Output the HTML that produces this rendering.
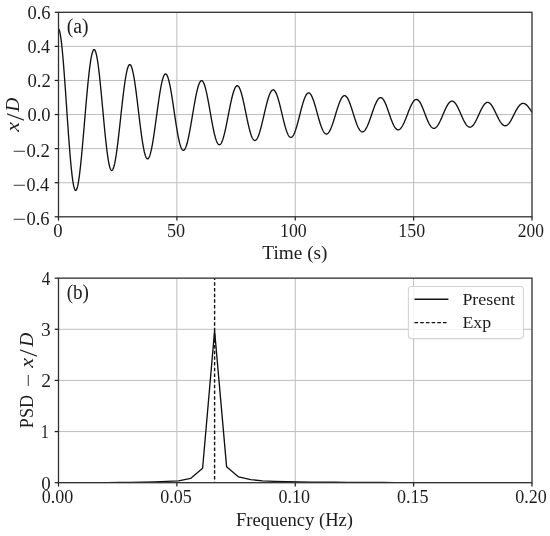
<!DOCTYPE html>
<html><head><meta charset="utf-8"><title>Figure</title>
<style>
html,body{margin:0;padding:0;background:#fff;}
svg{display:block}
text{font-family:"Liberation Serif",serif;font-size:18px;fill:#1c1c1c}
.it{font-style:italic}
.grid line{stroke:#b9b9b9;stroke-width:0.95}
.tick line{stroke:#222;stroke-width:1.25}
.spine{fill:none;stroke:#303030;stroke-width:1.3}
.curve{fill:none;stroke:#111;stroke-width:1.35;stroke-linejoin:round}
</style></head><body>
<svg width="550" height="536" viewBox="0 0 550 536">
<rect width="550" height="536" fill="#fff"/>

<g class="grid">
<line x1="176.88" y1="12.3" x2="176.88" y2="216.8"/>
<line x1="295.25" y1="12.3" x2="295.25" y2="216.8"/>
<line x1="413.62" y1="12.3" x2="413.62" y2="216.8"/>
<line x1="58.5" y1="46.38" x2="532.0" y2="46.38"/>
<line x1="58.5" y1="80.47" x2="532.0" y2="80.47"/>
<line x1="58.5" y1="114.55" x2="532.0" y2="114.55"/>
<line x1="58.5" y1="148.63" x2="532.0" y2="148.63"/>
<line x1="58.5" y1="182.72" x2="532.0" y2="182.72"/>
<line x1="176.88" y1="278.15" x2="176.88" y2="482.7"/>
<line x1="295.25" y1="278.15" x2="295.25" y2="482.7"/>
<line x1="413.62" y1="278.15" x2="413.62" y2="482.7"/>
<line x1="58.5" y1="431.56" x2="532.0" y2="431.56"/>
<line x1="58.5" y1="380.42" x2="532.0" y2="380.42"/>
<line x1="58.5" y1="329.29" x2="532.0" y2="329.29"/>
</g>
<g class="tick">
<line x1="58.50" y1="216.8" x2="58.50" y2="220.60000000000002"/>
<line x1="176.88" y1="216.8" x2="176.88" y2="220.60000000000002"/>
<line x1="295.25" y1="216.8" x2="295.25" y2="220.60000000000002"/>
<line x1="413.62" y1="216.8" x2="413.62" y2="220.60000000000002"/>
<line x1="532.00" y1="216.8" x2="532.00" y2="220.60000000000002"/>
<line x1="54.7" y1="12.30" x2="58.5" y2="12.30"/>
<line x1="54.7" y1="46.38" x2="58.5" y2="46.38"/>
<line x1="54.7" y1="80.47" x2="58.5" y2="80.47"/>
<line x1="54.7" y1="114.55" x2="58.5" y2="114.55"/>
<line x1="54.7" y1="148.63" x2="58.5" y2="148.63"/>
<line x1="54.7" y1="182.72" x2="58.5" y2="182.72"/>
<line x1="54.7" y1="216.80" x2="58.5" y2="216.80"/>
<line x1="58.50" y1="482.7" x2="58.50" y2="486.5"/>
<line x1="176.88" y1="482.7" x2="176.88" y2="486.5"/>
<line x1="295.25" y1="482.7" x2="295.25" y2="486.5"/>
<line x1="413.62" y1="482.7" x2="413.62" y2="486.5"/>
<line x1="532.00" y1="482.7" x2="532.00" y2="486.5"/>
<line x1="54.7" y1="482.70" x2="58.5" y2="482.70"/>
<line x1="54.7" y1="431.56" x2="58.5" y2="431.56"/>
<line x1="54.7" y1="380.42" x2="58.5" y2="380.42"/>
<line x1="54.7" y1="329.29" x2="58.5" y2="329.29"/>
<line x1="54.7" y1="278.15" x2="58.5" y2="278.15"/>
</g>
<clipPath id="c1"><rect x="58.5" y="12.3" width="473.5" height="204.5"/></clipPath>
<clipPath id="c2"><rect x="58.5" y="278.15" width="473.5" height="204.55"/></clipPath>
<polyline class="curve" clip-path="url(#c1)" points="58.50,28.83 58.80,29.12 59.09,29.67 59.39,30.46 59.68,31.51 59.98,32.80 60.28,34.32 60.57,36.08 60.87,38.07 61.16,40.27 61.46,42.68 61.76,45.29 62.05,48.09 62.35,51.08 62.64,54.23 62.94,57.55 63.23,61.03 63.53,64.64 63.83,68.37 64.12,72.23 64.42,76.19 64.71,80.24 65.01,84.37 65.31,88.56 65.60,92.81 65.90,97.11 66.19,101.43 66.49,105.76 66.79,110.10 67.08,114.43 67.38,118.74 67.67,123.02 67.97,127.24 68.27,131.42 68.56,135.52 68.86,139.54 69.15,143.47 69.45,147.29 69.75,151.01 70.04,154.60 70.34,158.07 70.63,161.39 70.93,164.56 71.23,167.58 71.52,170.43 71.82,173.12 72.11,175.63 72.41,177.95 72.70,180.09 73.00,182.04 73.30,183.79 73.59,185.34 73.89,186.69 74.18,187.83 74.48,188.77 74.78,189.50 75.07,190.03 75.37,190.35 75.66,190.46 75.96,190.36 76.26,190.07 76.55,189.57 76.85,188.87 77.14,187.98 77.44,186.91 77.74,185.65 78.03,184.21 78.33,182.60 78.62,180.83 78.92,178.89 79.22,176.80 79.51,174.56 79.81,172.19 80.10,169.68 80.40,167.05 80.70,164.30 80.99,161.44 81.29,158.49 81.58,155.44 81.88,152.30 82.17,149.09 82.47,145.81 82.77,142.47 83.06,139.08 83.36,135.65 83.65,132.19 83.95,128.70 84.25,125.20 84.54,121.69 84.84,118.18 85.13,114.68 85.43,111.19 85.73,107.74 86.02,104.31 86.32,100.93 86.61,97.60 86.91,94.33 87.21,91.12 87.50,87.99 87.80,84.93 88.09,81.97 88.39,79.09 88.69,76.32 88.98,73.65 89.28,71.10 89.57,68.67 89.87,66.36 90.17,64.18 90.46,62.13 90.76,60.23 91.05,58.47 91.35,56.85 91.65,55.39 91.94,54.09 92.24,52.95 92.53,51.96 92.83,51.15 93.12,50.49 93.42,50.01 93.72,49.70 94.01,49.55 94.31,49.58 94.60,49.78 94.90,50.16 95.20,50.70 95.49,51.42 95.79,52.30 96.08,53.35 96.38,54.56 96.68,55.93 96.97,57.46 97.27,59.13 97.56,60.96 97.86,62.92 98.16,65.02 98.45,67.24 98.75,69.59 99.04,72.06 99.34,74.63 99.64,77.30 99.93,80.07 100.23,82.92 100.52,85.84 100.82,88.84 101.12,91.89 101.41,94.99 101.71,98.13 102.00,101.30 102.30,104.50 102.59,107.70 102.89,110.91 103.19,114.12 103.48,117.31 103.78,120.48 104.07,123.61 104.37,126.70 104.67,129.74 104.96,132.73 105.26,135.64 105.55,138.48 105.85,141.24 106.15,143.91 106.44,146.48 106.74,148.95 107.03,151.31 107.33,153.55 107.63,155.67 107.92,157.66 108.22,159.52 108.51,161.25 108.81,162.84 109.11,164.28 109.40,165.58 109.70,166.73 109.99,167.72 110.29,168.57 110.59,169.26 110.88,169.80 111.18,170.19 111.47,170.42 111.77,170.49 112.06,170.42 112.36,170.19 112.66,169.82 112.95,169.30 113.25,168.63 113.54,167.83 113.84,166.88 114.14,165.80 114.43,164.58 114.73,163.24 115.02,161.77 115.32,160.19 115.62,158.48 115.91,156.67 116.21,154.76 116.50,152.75 116.80,150.64 117.10,148.45 117.39,146.17 117.69,143.83 117.98,141.41 118.28,138.93 118.58,136.40 118.87,133.82 119.17,131.20 119.46,128.54 119.76,125.86 120.06,123.16 120.35,120.45 120.65,117.73 120.94,115.01 121.24,112.30 121.53,109.61 121.83,106.93 122.13,104.29 122.42,101.69 122.72,99.12 123.01,96.61 123.31,94.15 123.61,91.76 123.90,89.43 124.20,87.18 124.49,85.01 124.79,82.92 125.09,80.92 125.38,79.02 125.68,77.22 125.97,75.53 126.27,73.94 126.57,72.47 126.86,71.12 127.16,69.88 127.45,68.77 127.75,67.79 128.05,66.93 128.34,66.20 128.64,65.61 128.93,65.15 129.23,64.83 129.53,64.64 129.82,64.58 130.12,64.67 130.41,64.88 130.71,65.24 131.00,65.72 131.30,66.34 131.60,67.09 131.89,67.96 132.19,68.96 132.48,70.08 132.78,71.31 133.08,72.66 133.37,74.13 133.67,75.69 133.96,77.36 134.26,79.12 134.56,80.98 134.85,82.92 135.15,84.93 135.44,87.03 135.74,89.19 136.04,91.41 136.33,93.68 136.63,96.01 136.92,98.38 137.22,100.78 137.52,103.21 137.81,105.66 138.11,108.12 138.40,110.60 138.70,113.07 139.00,115.54 139.29,117.99 139.59,120.42 139.88,122.83 140.18,125.21 140.47,127.54 140.77,129.83 141.07,132.07 141.36,134.25 141.66,136.37 141.95,138.42 142.25,140.40 142.55,142.29 142.84,144.10 143.14,145.83 143.43,147.46 143.73,148.99 144.03,150.42 144.32,151.75 144.62,152.98 144.91,154.09 145.21,155.09 145.51,155.98 145.80,156.75 146.10,157.40 146.39,157.94 146.69,158.35 146.99,158.65 147.28,158.83 147.58,158.88 147.87,158.82 148.17,158.64 148.47,158.34 148.76,157.93 149.06,157.40 149.35,156.76 149.65,156.01 149.94,155.15 150.24,154.18 150.54,153.12 150.83,151.95 151.13,150.69 151.42,149.34 151.72,147.90 152.02,146.38 152.31,144.77 152.61,143.09 152.90,141.34 153.20,139.53 153.50,137.65 153.79,135.72 154.09,133.74 154.38,131.72 154.68,129.65 154.98,127.55 155.27,125.42 155.57,123.27 155.86,121.10 156.16,118.92 156.46,116.74 156.75,114.55 157.05,112.37 157.34,110.20 157.64,108.05 157.94,105.92 158.23,103.82 158.53,101.76 158.82,99.73 159.12,97.75 159.41,95.82 159.71,93.94 160.01,92.12 160.30,90.37 160.60,88.68 160.89,87.07 161.19,85.54 161.49,84.09 161.78,82.72 162.08,81.44 162.37,80.25 162.67,79.16 162.97,78.17 163.26,77.28 163.56,76.49 163.85,75.80 164.15,75.23 164.45,74.76 164.74,74.39 165.04,74.14 165.33,74.00 165.63,73.97 165.93,74.05 166.22,74.24 166.52,74.55 166.81,74.96 167.11,75.48 167.41,76.11 167.70,76.84 168.00,77.67 168.29,78.61 168.59,79.64 168.88,80.76 169.18,81.97 169.48,83.27 169.77,84.65 170.07,86.10 170.36,87.63 170.66,89.23 170.96,90.89 171.25,92.61 171.55,94.38 171.84,96.21 172.14,98.07 172.44,99.97 172.73,101.90 173.03,103.86 173.32,105.84 173.62,107.83 173.92,109.84 174.21,111.84 174.51,113.85 174.80,115.84 175.10,117.83 175.40,119.79 175.69,121.73 175.99,123.64 176.28,125.52 176.58,127.35 176.88,129.15 177.17,130.89 177.47,132.58 177.76,134.22 178.06,135.79 178.35,137.29 178.65,138.73 178.95,140.10 179.24,141.39 179.54,142.60 179.83,143.73 180.13,144.78 180.43,145.74 180.72,146.62 181.02,147.40 181.31,148.10 181.61,148.70 181.91,149.21 182.20,149.62 182.50,149.95 182.79,150.17 183.09,150.31 183.39,150.35 183.68,150.29 183.98,150.15 184.27,149.91 184.57,149.57 184.87,149.15 185.16,148.64 185.46,148.04 185.75,147.36 186.05,146.59 186.34,145.74 186.64,144.82 186.94,143.81 187.23,142.74 187.53,141.59 187.82,140.38 188.12,139.11 188.42,137.77 188.71,136.38 189.01,134.93 189.30,133.44 189.60,131.90 189.90,130.32 190.19,128.70 190.49,127.04 190.78,125.36 191.08,123.66 191.38,121.93 191.67,120.19 191.97,118.43 192.26,116.67 192.56,114.90 192.86,113.14 193.15,111.38 193.45,109.63 193.74,107.90 194.04,106.19 194.34,104.50 194.63,102.84 194.93,101.21 195.22,99.62 195.52,98.06 195.81,96.56 196.11,95.10 196.41,93.69 196.70,92.33 197.00,91.04 197.29,89.81 197.59,88.64 197.89,87.55 198.18,86.52 198.48,85.57 198.77,84.70 199.07,83.91 199.37,83.20 199.66,82.57 199.96,82.03 200.25,81.57 200.55,81.20 200.85,80.93 201.14,80.74 201.44,80.64 201.73,80.64 202.03,80.72 202.33,80.90 202.62,81.18 202.92,81.54 203.21,82.00 203.51,82.54 203.81,83.17 204.10,83.88 204.40,84.68 204.69,85.56 204.99,86.51 205.28,87.54 205.58,88.64 205.88,89.81 206.17,91.05 206.47,92.34 206.76,93.69 207.06,95.10 207.36,96.55 207.65,98.05 207.95,99.58 208.24,101.15 208.54,102.76 208.84,104.38 209.13,106.03 209.43,107.70 209.72,109.37 210.02,111.06 210.32,112.74 210.61,114.43 210.91,116.10 211.20,117.77 211.50,119.41 211.80,121.04 212.09,122.64 212.39,124.21 212.68,125.75 212.98,127.25 213.28,128.71 213.57,130.13 213.87,131.49 214.16,132.80 214.46,134.06 214.75,135.26 215.05,136.39 215.35,137.46 215.64,138.47 215.94,139.40 216.23,140.27 216.53,141.06 216.83,141.78 217.12,142.42 217.42,142.99 217.71,143.47 218.01,143.88 218.31,144.21 218.60,144.45 218.90,144.62 219.19,144.71 219.49,144.71 219.79,144.64 220.08,144.49 220.38,144.25 220.67,143.94 220.97,143.55 221.27,143.08 221.56,142.53 221.86,141.92 222.15,141.22 222.45,140.46 222.75,139.64 223.04,138.74 223.34,137.79 223.63,136.77 223.93,135.69 224.22,134.56 224.52,133.38 224.82,132.15 225.11,130.87 225.41,129.56 225.70,128.20 226.00,126.81 226.30,125.39 226.59,123.94 226.89,122.47 227.18,120.97 227.48,119.47 227.78,117.95 228.07,116.42 228.37,114.89 228.66,113.37 228.96,111.84 229.26,110.33 229.55,108.83 229.85,107.34 230.14,105.88 230.44,104.44 230.74,103.03 231.03,101.66 231.33,100.32 231.62,99.02 231.92,97.76 232.22,96.55 232.51,95.39 232.81,94.29 233.10,93.24 233.40,92.25 233.69,91.32 233.99,90.45 234.29,89.66 234.58,88.93 234.88,88.27 235.17,87.69 235.47,87.18 235.77,86.74 236.06,86.38 236.36,86.11 236.65,85.91 236.95,85.78 237.25,85.74 237.54,85.78 237.84,85.90 238.13,86.10 238.43,86.38 238.73,86.74 239.02,87.18 239.32,87.69 239.61,88.28 239.91,88.94 240.21,89.67 240.50,90.47 240.80,91.34 241.09,92.27 241.39,93.26 241.69,94.30 241.98,95.40 242.28,96.56 242.57,97.75 242.87,99.00 243.16,100.28 243.46,101.59 243.76,102.94 244.05,104.32 244.35,105.71 244.64,107.13 244.94,108.57 245.24,110.01 245.53,111.46 245.83,112.91 246.12,114.37 246.42,115.81 246.72,117.25 247.01,118.67 247.31,120.07 247.60,121.45 247.90,122.81 248.20,124.14 248.49,125.43 248.79,126.69 249.08,127.91 249.38,129.08 249.68,130.21 249.97,131.30 250.27,132.33 250.56,133.31 250.86,134.23 251.16,135.09 251.45,135.90 251.75,136.64 252.04,137.32 252.34,137.94 252.63,138.49 252.93,138.97 253.23,139.39 253.52,139.74 253.82,140.02 254.11,140.23 254.41,140.37 254.71,140.45 255.00,140.45 255.30,140.39 255.59,140.26 255.89,140.06 256.19,139.80 256.48,139.47 256.78,139.07 257.07,138.62 257.37,138.10 257.67,137.52 257.96,136.88 258.26,136.19 258.55,135.44 258.85,134.64 259.15,133.79 259.44,132.89 259.74,131.95 260.03,130.96 260.33,129.93 260.63,128.87 260.92,127.77 261.22,126.64 261.51,125.48 261.81,124.30 262.11,123.09 262.40,121.86 262.70,120.62 262.99,119.36 263.29,118.09 263.58,116.82 263.88,115.54 264.18,114.26 264.47,112.98 264.77,111.71 265.06,110.45 265.36,109.20 265.66,107.96 265.95,106.74 266.25,105.55 266.54,104.38 266.84,103.23 267.14,102.12 267.43,101.03 267.73,99.99 268.02,98.98 268.32,98.02 268.62,97.09 268.91,96.22 269.21,95.39 269.50,94.61 269.80,93.89 270.10,93.22 270.39,92.60 270.69,92.04 270.98,91.55 271.28,91.11 271.57,90.74 271.87,90.43 272.17,90.18 272.46,90.00 272.76,89.89 273.05,89.84 273.35,89.85 273.65,89.94 273.94,90.09 274.24,90.31 274.53,90.59 274.83,90.93 275.13,91.34 275.42,91.82 275.72,92.35 276.01,92.94 276.31,93.60 276.61,94.30 276.90,95.06 277.20,95.88 277.49,96.74 277.79,97.65 278.09,98.60 278.38,99.60 278.68,100.64 278.97,101.71 279.27,102.81 279.57,103.94 279.86,105.10 280.16,106.29 280.45,107.49 280.75,108.71 281.04,109.94 281.34,111.18 281.64,112.43 281.93,113.68 282.23,114.93 282.52,116.17 282.82,117.41 283.12,118.63 283.41,119.84 283.71,121.04 284.00,122.21 284.30,123.36 284.60,124.48 284.89,125.56 285.19,126.62 285.48,127.64 285.78,128.62 286.08,129.56 286.37,130.45 286.67,131.30 286.96,132.10 287.26,132.85 287.56,133.55 287.85,134.19 288.15,134.78 288.44,135.31 288.74,135.78 289.04,136.20 289.33,136.55 289.63,136.84 289.92,137.07 290.22,137.24 290.51,137.35 290.81,137.39 291.11,137.37 291.40,137.29 291.70,137.15 291.99,136.95 292.29,136.68 292.59,136.36 292.88,135.98 293.18,135.54 293.47,135.04 293.77,134.49 294.07,133.89 294.36,133.23 294.66,132.53 294.95,131.77 295.25,130.97 295.55,130.13 295.84,129.25 296.14,128.32 296.43,127.37 296.73,126.37 297.03,125.35 297.32,124.30 297.62,123.22 297.91,122.13 298.21,121.01 298.51,119.88 298.80,118.73 299.10,117.58 299.39,116.41 299.69,115.25 299.99,114.08 300.28,112.92 300.58,111.77 300.87,110.62 301.17,109.49 301.46,108.37 301.76,107.27 302.06,106.19 302.35,105.14 302.65,104.11 302.94,103.12 303.24,102.16 303.54,101.23 303.83,100.34 304.13,99.50 304.42,98.69 304.72,97.93 305.02,97.22 305.31,96.56 305.61,95.95 305.90,95.39 306.20,94.88 306.50,94.43 306.79,94.04 307.09,93.70 307.38,93.42 307.68,93.20 307.98,93.04 308.27,92.94 308.57,92.90 308.86,92.92 309.16,93.00 309.46,93.14 309.75,93.34 310.05,93.60 310.34,93.92 310.64,94.30 310.93,94.73 311.23,95.21 311.53,95.75 311.82,96.34 312.12,96.98 312.41,97.66 312.71,98.39 313.01,99.16 313.30,99.97 313.60,100.82 313.89,101.71 314.19,102.62 314.49,103.57 314.78,104.54 315.08,105.53 315.37,106.55 315.67,107.58 315.97,108.63 316.26,109.69 316.56,110.76 316.85,111.83 317.15,112.91 317.45,113.99 317.74,115.06 318.04,116.12 318.33,117.18 318.63,118.23 318.93,119.26 319.22,120.27 319.52,121.26 319.81,122.23 320.11,123.18 320.40,124.09 320.70,124.98 321.00,125.83 321.29,126.66 321.59,127.44 321.88,128.19 322.18,128.90 322.48,129.56 322.77,130.19 323.07,130.77 323.36,131.30 323.66,131.79 323.96,132.23 324.25,132.62 324.55,132.97 324.84,133.26 325.14,133.51 325.44,133.70 325.73,133.84 326.03,133.93 326.32,133.98 326.62,133.97 326.92,133.91 327.21,133.80 327.51,133.63 327.80,133.42 328.10,133.16 328.39,132.85 328.69,132.49 328.99,132.09 329.28,131.64 329.58,131.14 329.87,130.60 330.17,130.02 330.47,129.41 330.76,128.75 331.06,128.06 331.35,127.33 331.65,126.57 331.95,125.78 332.24,124.96 332.54,124.11 332.83,123.24 333.13,122.35 333.43,121.44 333.72,120.51 334.02,119.57 334.31,118.62 334.61,117.65 334.91,116.68 335.20,115.70 335.50,114.72 335.79,113.74 336.09,112.76 336.39,111.79 336.68,110.83 336.98,109.88 337.27,108.94 337.57,108.01 337.87,107.10 338.16,106.22 338.46,105.35 338.75,104.51 339.05,103.70 339.34,102.91 339.64,102.16 339.94,101.43 340.23,100.75 340.53,100.10 340.82,99.49 341.12,98.92 341.42,98.39 341.71,97.90 342.01,97.46 342.30,97.06 342.60,96.71 342.90,96.41 343.19,96.16 343.49,95.95 343.78,95.80 344.08,95.69 344.38,95.64 344.67,95.64 344.97,95.69 345.26,95.79 345.56,95.94 345.86,96.14 346.15,96.40 346.45,96.70 346.74,97.05 347.04,97.45 347.33,97.90 347.63,98.39 347.93,98.93 348.22,99.50 348.52,100.12 348.81,100.78 349.11,101.47 349.41,102.19 349.70,102.95 350.00,103.73 350.29,104.55 350.59,105.39 350.89,106.25 351.18,107.13 351.48,108.02 351.77,108.94 352.07,109.86 352.37,110.80 352.66,111.74 352.96,112.68 353.25,113.63 353.55,114.57 353.85,115.51 354.14,116.45 354.44,117.38 354.73,118.29 355.03,119.19 355.33,120.08 355.62,120.94 355.92,121.79 356.21,122.61 356.51,123.41 356.81,124.18 357.10,124.93 357.40,125.64 357.69,126.32 357.99,126.97 358.28,127.58 358.58,128.15 358.88,128.69 359.17,129.19 359.47,129.64 359.76,130.06 360.06,130.43 360.36,130.76 360.65,131.05 360.95,131.29 361.24,131.49 361.54,131.65 361.84,131.76 362.13,131.83 362.43,131.85 362.72,131.83 363.02,131.76 363.32,131.64 363.61,131.49 363.91,131.28 364.20,131.04 364.50,130.75 364.80,130.42 365.09,130.05 365.39,129.65 365.68,129.20 365.98,128.71 366.27,128.19 366.57,127.64 366.87,127.05 367.16,126.43 367.46,125.79 367.75,125.11 368.05,124.41 368.35,123.68 368.64,122.93 368.94,122.16 369.23,121.37 369.53,120.56 369.83,119.74 370.12,118.91 370.42,118.06 370.71,117.21 371.01,116.35 371.31,115.48 371.60,114.62 371.90,113.75 372.19,112.89 372.49,112.03 372.79,111.18 373.08,110.33 373.38,109.50 373.67,108.68 373.97,107.87 374.27,107.09 374.56,106.32 374.86,105.57 375.15,104.85 375.45,104.15 375.75,103.47 376.04,102.83 376.34,102.22 376.63,101.64 376.93,101.09 377.22,100.58 377.52,100.10 377.82,99.67 378.11,99.27 378.41,98.91 378.70,98.59 379.00,98.32 379.30,98.09 379.59,97.90 379.89,97.76 380.18,97.67 380.48,97.62 380.78,97.61 381.07,97.66 381.37,97.75 381.66,97.89 381.96,98.07 382.26,98.31 382.55,98.59 382.85,98.91 383.14,99.28 383.44,99.70 383.74,100.15 384.03,100.65 384.33,101.18 384.62,101.75 384.92,102.36 385.21,103.00 385.51,103.67 385.81,104.38 386.10,105.10 386.40,105.86 386.69,106.63 386.99,107.43 387.29,108.24 387.58,109.07 387.88,109.91 388.17,110.76 388.47,111.62 388.77,112.48 389.06,113.34 389.36,114.21 389.65,115.07 389.95,115.92 390.25,116.77 390.54,117.60 390.84,118.42 391.13,119.23 391.43,120.02 391.73,120.79 392.02,121.54 392.32,122.27 392.61,122.97 392.91,123.64 393.21,124.29 393.50,124.90 393.80,125.49 394.09,126.04 394.39,126.55 394.69,127.04 394.98,127.48 395.28,127.89 395.57,128.26 395.87,128.59 396.16,128.88 396.46,129.14 396.76,129.35 397.05,129.52 397.35,129.66 397.64,129.75 397.94,129.80 398.24,129.82 398.53,129.79 398.83,129.73 399.12,129.62 399.42,129.47 399.72,129.29 400.01,129.06 400.31,128.80 400.60,128.50 400.90,128.17 401.20,127.80 401.49,127.39 401.79,126.96 402.08,126.49 402.38,125.99 402.68,125.46 402.97,124.91 403.27,124.33 403.56,123.72 403.86,123.09 404.15,122.44 404.45,121.77 404.75,121.09 405.04,120.38 405.34,119.67 405.63,118.94 405.93,118.20 406.23,117.45 406.52,116.69 406.82,115.93 407.11,115.16 407.41,114.40 407.71,113.63 408.00,112.87 408.30,112.11 408.59,111.36 408.89,110.61 409.19,109.88 409.48,109.15 409.78,108.44 410.07,107.75 410.37,107.07 410.67,106.42 410.96,105.78 411.26,105.16 411.55,104.57 411.85,104.01 412.15,103.47 412.44,102.96 412.74,102.48 413.03,102.03 413.33,101.61 413.62,101.23 413.92,100.88 414.22,100.57 414.51,100.30 414.81,100.06 415.10,99.86 415.40,99.70 415.70,99.58 415.99,99.50 416.29,99.46 416.58,99.46 416.88,99.50 417.18,99.59 417.47,99.71 417.77,99.88 418.06,100.10 418.36,100.35 418.66,100.64 418.95,100.98 419.25,101.35 419.54,101.76 419.84,102.20 420.14,102.68 420.43,103.19 420.73,103.74 421.02,104.31 421.32,104.92 421.62,105.55 421.91,106.20 422.21,106.88 422.50,107.57 422.80,108.29 423.10,109.02 423.39,109.76 423.69,110.51 423.98,111.28 424.28,112.05 424.57,112.82 424.87,113.60 425.17,114.38 425.46,115.15 425.76,115.92 426.05,116.68 426.35,117.43 426.65,118.18 426.94,118.90 427.24,119.62 427.53,120.31 427.83,120.99 428.13,121.64 428.42,122.27 428.72,122.88 429.01,123.46 429.31,124.01 429.61,124.54 429.90,125.03 430.20,125.49 430.49,125.93 430.79,126.32 431.09,126.69 431.38,127.02 431.68,127.31 431.97,127.57 432.27,127.79 432.56,127.98 432.86,128.12 433.16,128.24 433.45,128.31 433.75,128.35 434.04,128.35 434.34,128.32 434.64,128.24 434.93,128.14 435.23,127.99 435.52,127.81 435.82,127.60 436.12,127.35 436.41,127.06 436.71,126.75 437.00,126.40 437.30,126.02 437.60,125.61 437.89,125.18 438.19,124.71 438.48,124.22 438.78,123.71 439.08,123.17 439.37,122.61 439.67,122.03 439.96,121.43 440.26,120.82 440.56,120.19 440.85,119.54 441.15,118.88 441.44,118.21 441.74,117.54 442.04,116.85 442.33,116.16 442.63,115.47 442.92,114.77 443.22,114.08 443.51,113.39 443.81,112.70 444.11,112.01 444.40,111.33 444.70,110.66 444.99,110.01 445.29,109.36 445.59,108.73 445.88,108.11 446.18,107.51 446.47,106.93 446.77,106.37 447.07,105.83 447.36,105.31 447.66,104.82 447.95,104.36 448.25,103.92 448.55,103.50 448.84,103.12 449.14,102.77 449.43,102.45 449.73,102.16 450.03,101.91 450.32,101.68 450.62,101.50 450.91,101.34 451.21,101.23 451.50,101.14 451.80,101.10 452.10,101.09 452.39,101.11 452.69,101.18 452.98,101.27 453.28,101.41 453.58,101.58 453.87,101.79 454.17,102.02 454.46,102.30 454.76,102.60 455.06,102.94 455.35,103.31 455.65,103.71 455.94,104.14 456.24,104.59 456.54,105.07 456.83,105.58 457.13,106.11 457.42,106.66 457.72,107.23 458.02,107.82 458.31,108.43 458.61,109.05 458.90,109.69 459.20,110.33 459.50,110.99 459.79,111.66 460.09,112.33 460.38,113.01 460.68,113.68 460.98,114.36 461.27,115.04 461.57,115.72 461.86,116.39 462.16,117.05 462.45,117.71 462.75,118.35 463.05,118.99 463.34,119.61 463.64,120.21 463.93,120.80 464.23,121.37 464.53,121.92 464.82,122.45 465.12,122.96 465.41,123.44 465.71,123.89 466.01,124.33 466.30,124.73 466.60,125.11 466.89,125.45 467.19,125.77 467.49,126.05 467.78,126.31 468.08,126.53 468.37,126.72 468.67,126.87 468.97,127.00 469.26,127.09 469.56,127.14 469.85,127.16 470.15,127.15 470.44,127.10 470.74,127.02 471.04,126.91 471.33,126.76 471.63,126.58 471.92,126.37 472.22,126.12 472.52,125.85 472.81,125.54 473.11,125.21 473.40,124.84 473.70,124.45 474.00,124.04 474.29,123.59 474.59,123.13 474.88,122.64 475.18,122.12 475.48,121.59 475.77,121.04 476.07,120.47 476.36,119.89 476.66,119.29 476.96,118.68 477.25,118.06 477.55,117.43 477.84,116.80 478.14,116.15 478.44,115.51 478.73,114.86 479.03,114.21 479.32,113.56 479.62,112.92 479.92,112.28 480.21,111.64 480.51,111.02 480.80,110.41 481.10,109.80 481.39,109.21 481.69,108.64 481.99,108.08 482.28,107.54 482.58,107.02 482.87,106.53 483.17,106.05 483.47,105.60 483.76,105.17 484.06,104.77 484.35,104.40 484.65,104.06 484.95,103.74 485.24,103.46 485.54,103.20 485.83,102.98 486.13,102.79 486.43,102.64 486.72,102.51 487.02,102.42 487.31,102.37 487.61,102.35 487.91,102.36 488.20,102.41 488.50,102.49 488.79,102.61 489.09,102.76 489.38,102.95 489.68,103.16 489.98,103.41 490.27,103.70 490.57,104.01 490.86,104.35 491.16,104.72 491.46,105.12 491.75,105.54 492.05,105.99 492.34,106.46 492.64,106.95 492.94,107.46 493.23,108.00 493.53,108.54 493.82,109.11 494.12,109.68 494.42,110.27 494.71,110.87 495.01,111.47 495.30,112.09 495.60,112.70 495.90,113.32 496.19,113.94 496.49,114.57 496.78,115.18 497.08,115.80 497.38,116.40 497.67,117.00 497.97,117.59 498.26,118.17 498.56,118.74 498.86,119.29 499.15,119.83 499.45,120.35 499.74,120.86 500.04,121.34 500.33,121.80 500.63,122.25 500.93,122.67 501.22,123.06 501.52,123.43 501.81,123.78 502.11,124.10 502.41,124.39 502.70,124.66 503.00,124.89 503.29,125.10 503.59,125.28 503.89,125.43 504.18,125.55 504.48,125.65 504.77,125.71 505.07,125.74 505.37,125.74 505.66,125.72 505.96,125.66 506.25,125.57 506.55,125.45 506.85,125.30 507.14,125.11 507.44,124.90 507.73,124.66 508.03,124.39 508.32,124.09 508.62,123.77 508.92,123.42 509.21,123.04 509.51,122.64 509.80,122.22 510.10,121.77 510.40,121.31 510.69,120.82 510.99,120.32 511.28,119.80 511.58,119.27 511.88,118.72 512.17,118.16 512.47,117.59 512.76,117.02 513.06,116.43 513.36,115.85 513.65,115.26 513.95,114.66 514.24,114.07 514.54,113.48 514.84,112.90 515.13,112.32 515.43,111.74 515.72,111.18 516.02,110.63 516.32,110.08 516.61,109.56 516.91,109.04 517.20,108.54 517.50,108.06 517.80,107.60 518.09,107.16 518.39,106.74 518.68,106.34 518.98,105.96 519.27,105.60 519.57,105.27 519.87,104.97 520.16,104.69 520.46,104.44 520.75,104.21 521.05,104.01 521.35,103.83 521.64,103.69 521.94,103.57 522.23,103.47 522.53,103.41 522.83,103.37 523.12,103.35 523.42,103.37 523.71,103.41 524.01,103.47 524.31,103.56 524.60,103.67 524.90,103.81 525.19,103.97 525.49,104.16 525.79,104.37 526.08,104.59 526.38,104.84 526.67,105.11 526.97,105.40 527.26,105.70 527.56,106.03 527.86,106.37 528.15,106.72 528.45,107.09 528.74,107.48 529.04,107.87 529.34,108.28 529.63,108.70 529.93,109.13 530.22,109.57 530.52,110.02 530.82,110.47 531.11,110.93 531.41,111.40 531.70,111.87 532.00,112.34"/>
<polyline class="curve" clip-path="url(#c2)" points="58.50,482.70 70.51,482.70 82.52,482.70 94.52,482.65 106.53,482.60 118.54,482.50 130.55,482.34 142.56,482.14 154.56,481.83 166.57,481.42 178.58,480.86 190.59,478.46 202.60,468.23 214.60,330.82 226.61,466.85 238.62,476.92 250.63,479.63 262.64,480.86 274.64,481.37 286.65,481.68 298.66,481.93 310.67,482.09 322.68,482.19 334.68,482.29 346.69,482.34 358.70,482.39 370.71,482.44 382.71,482.50 394.72,482.55 406.73,482.55 418.74,482.60 430.75,482.65 442.75,482.65 454.76,482.65 466.77,482.65 478.78,482.65 490.79,482.65 502.79,482.65 514.80,482.65 526.81,482.65"/>
<line x1="214.60" y1="278.15" x2="214.60" y2="482.7" stroke="#111" stroke-width="1.4" stroke-dasharray="3.5 2.2" stroke-dashoffset="1.6"/>
<rect class="spine" x="58.5" y="12.3" width="473.5" height="204.5"/>
<rect class="spine" x="58.5" y="278.15" width="473.5" height="204.55"/>
<text x="53.25" y="236.70" textLength="9.35" lengthAdjust="spacingAndGlyphs">0</text>
<text x="167.00" y="236.70" textLength="18.20" lengthAdjust="spacingAndGlyphs">50</text>
<text x="280.00" y="236.70" textLength="26.70" lengthAdjust="spacingAndGlyphs">100</text>
<text x="398.30" y="236.70" textLength="26.85" lengthAdjust="spacingAndGlyphs">150</text>
<text x="517.85" y="236.70" textLength="26.10" lengthAdjust="spacingAndGlyphs">200</text>
<text x="27.45" y="18.60" textLength="23.15" lengthAdjust="spacingAndGlyphs">0.6</text>
<text x="27.45" y="52.68" textLength="22.65" lengthAdjust="spacingAndGlyphs">0.4</text>
<text x="27.45" y="86.77" textLength="23.40" lengthAdjust="spacingAndGlyphs">0.2</text>
<text x="27.45" y="120.85" textLength="23.15" lengthAdjust="spacingAndGlyphs">0.0</text>
<text x="26.45" y="156.73" textLength="23.40" lengthAdjust="spacingAndGlyphs">0.2</text>
<text x="12.55" y="156.73" textLength="13.65" lengthAdjust="spacingAndGlyphs">−</text>
<text x="26.45" y="190.82" textLength="22.65" lengthAdjust="spacingAndGlyphs">0.4</text>
<text x="12.55" y="190.82" textLength="13.65" lengthAdjust="spacingAndGlyphs">−</text>
<text x="26.45" y="224.90" textLength="23.15" lengthAdjust="spacingAndGlyphs">0.6</text>
<text x="12.55" y="224.90" textLength="13.65" lengthAdjust="spacingAndGlyphs">−</text>
<text x="41.85" y="503.30" textLength="31.50" lengthAdjust="spacingAndGlyphs">0.00</text>
<text x="160.22" y="503.30" textLength="31.50" lengthAdjust="spacingAndGlyphs">0.05</text>
<text x="278.60" y="503.30" textLength="31.50" lengthAdjust="spacingAndGlyphs">0.10</text>
<text x="396.97" y="503.30" textLength="31.50" lengthAdjust="spacingAndGlyphs">0.15</text>
<text x="515.35" y="503.30" textLength="31.50" lengthAdjust="spacingAndGlyphs">0.20</text>
<text x="41.25" y="489.60" textLength="9.50" lengthAdjust="spacingAndGlyphs">0</text>
<text x="40.70" y="438.46" textLength="8.15" lengthAdjust="spacingAndGlyphs">1</text>
<text x="41.25" y="387.32" textLength="9.75" lengthAdjust="spacingAndGlyphs">2</text>
<text x="41.00" y="336.19" textLength="9.75" lengthAdjust="spacingAndGlyphs">3</text>
<text x="41.75" y="285.05" textLength="8.50" lengthAdjust="spacingAndGlyphs">4</text>
<text x="262.35" y="259.00" textLength="65.20" lengthAdjust="spacingAndGlyphs">Time (s)</text>
<text x="235.90" y="525.50" textLength="117.10" lengthAdjust="spacingAndGlyphs">Frequency (Hz)</text>
<g transform="translate(19.1,132.0) rotate(-90)"><text class="it" x="20.35" y="0.00" textLength="14.00" lengthAdjust="spacingAndGlyphs">D</text><text style="font-size:25px" x="11.20" y="4.40" textLength="7.50" lengthAdjust="spacingAndGlyphs">/</text><text class="it" x="0.25" y="0.00" textLength="9.85" lengthAdjust="spacingAndGlyphs">x</text></g>
<g transform="translate(32.8,427.7) rotate(-90)"><text x="-0.50" y="0.00" textLength="33.25" lengthAdjust="spacingAndGlyphs">PSD</text><text x="40.55" y="0.80" textLength="13.45" lengthAdjust="spacingAndGlyphs">−</text><text class="it" x="60.05" y="0.00" textLength="9.85" lengthAdjust="spacingAndGlyphs">x</text><text style="font-size:25px" x="71.00" y="4.40" textLength="7.55" lengthAdjust="spacingAndGlyphs">/</text><text class="it" x="81.05" y="0.00" textLength="14.00" lengthAdjust="spacingAndGlyphs">D</text></g>
<text style="font-size:20px" x="66.65" y="32.60" textLength="21.90" lengthAdjust="spacingAndGlyphs">(a)</text>
<text style="font-size:20px" x="66.65" y="298.60" textLength="22.35" lengthAdjust="spacingAndGlyphs">(b)</text>
<rect x="408.4" y="286.5" width="115" height="52.1" rx="3" ry="3" fill="#fff" fill-opacity="0.8" stroke="#d4d4d4" stroke-width="1.1"/>
<line x1="414.5" y1="299.2" x2="448.4" y2="299.2" stroke="#111" stroke-width="1.35"/>
<line x1="414.5" y1="322.6" x2="448.4" y2="322.6" stroke="#111" stroke-width="1.35" stroke-dasharray="3.6 2.1"/>
<text style="font-size:17px" x="462.40" y="304.80" textLength="52.70" lengthAdjust="spacingAndGlyphs">Present</text>
<text style="font-size:17px" x="462.40" y="328.40" textLength="28.75" lengthAdjust="spacingAndGlyphs">Exp</text>
</svg></body></html>
